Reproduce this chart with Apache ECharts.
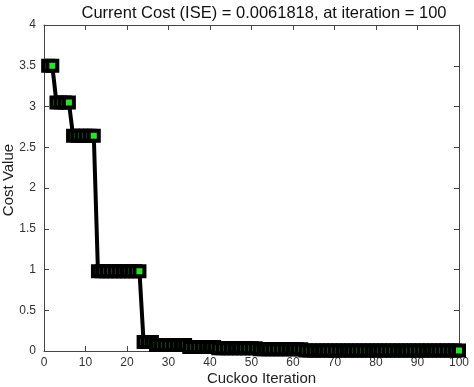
<!DOCTYPE html>
<html><head><meta charset="utf-8">
<script src="https://cdn.jsdelivr.net/npm/echarts@6/dist/echarts.min.js"></script>
<style>html,body{margin:0;padding:0;background:#fff}#c{width:474px;height:387px}</style>
</head><body><div id="c"></div>
<script>
const titleText = 'Current Cost (ISE) = 0.0061818, at iteration = 100';
const xLabel = 'Cuckoo Iteration';
const yLabel = 'Cost Value';
const costValues = [
  3.5, 3.5,
  3.05, 3.05, 3.05, 3.05,
  2.64, 2.64, 2.64, 2.64, 2.64, 2.64,
  0.98, 0.98, 0.98, 0.98, 0.98, 0.98, 0.98, 0.98, 0.98, 0.98, 0.98,
  0.11, 0.11, 0.11,
  0.075, 0.075, 0.075, 0.075, 0.075, 0.075, 0.075, 0.075,
  0.05, 0.05, 0.05, 0.05, 0.05, 0.05, 0.05,
  0.035, 0.035, 0.035, 0.035, 0.035, 0.035, 0.035, 0.035, 0.035, 0.035,
  0.02, 0.02, 0.02, 0.02, 0.02, 0.02, 0.02, 0.02, 0.02, 0.02, 0.02,
  0.0061818, 0.0061818, 0.0061818, 0.0061818, 0.0061818, 0.0061818, 0.0061818, 0.0061818,
  0.0061818, 0.0061818, 0.0061818, 0.0061818, 0.0061818, 0.0061818, 0.0061818, 0.0061818,
  0.0061818, 0.0061818, 0.0061818, 0.0061818, 0.0061818, 0.0061818, 0.0061818, 0.0061818,
  0.0061818, 0.0061818, 0.0061818, 0.0061818, 0.0061818, 0.0061818, 0.0061818, 0.0061818,
  0.0061818, 0.0061818, 0.0061818, 0.0061818, 0.0061818, 0.0061818
];
const xTicks = [0, 10, 20, 30, 40, 50, 60, 70, 80, 90, 100];
const yTicks = [0, 0.5, 1, 1.5, 2, 2.5, 3, 3.5, 4];

const seriesData = costValues.map((v, i) => [i + 1, v]);
const font = '"Liberation Sans", Arial, sans-serif';
const axisCol = '#444';
const baseX = {
  type: 'value', min: xTicks[0], max: xTicks[xTicks.length - 1], interval: 10,
  axisLine: { show: true, onZero: false, lineStyle: { color: axisCol, width: 1 } },
  axisTick: { show: true, inside: true, length: 5, lineStyle: { color: axisCol } },
  splitLine: { show: false }
};
const baseY = {
  type: 'value', min: yTicks[0], max: yTicks[yTicks.length - 1], interval: 0.5,
  axisLine: { show: true, onZero: false, lineStyle: { color: axisCol, width: 1 } },
  axisTick: { show: true, inside: true, length: 5, lineStyle: { color: axisCol } },
  splitLine: { show: false }
};
const chart = echarts.init(document.getElementById('c'), null, { renderer: 'canvas' });
chart.setOption({
  animation: false,
  backgroundColor: '#fff',
  title: {
    text: titleText, left: 259, top: 0, textAlign: 'center',
    textStyle: { fontFamily: font, fontSize: 16.5, fontWeight: 'normal', color: '#111' }
  },
  grid: { left: 44, right: 15, top: 25, bottom: 36, containLabel: false, outerBoundsMode: 'none' },
  xAxis: [
    Object.assign({}, baseX, {
      position: 'bottom', name: xLabel, nameLocation: 'middle', nameGap: 20, nameMoveOverlap: false,
      nameTextStyle: { fontFamily: font, fontSize: 15, color: '#222', padding: [0, 0, 0, 20] },
      axisLabel: { show: true, margin: 6, fontFamily: font, fontSize: 12, color: '#333' }
    }),
    Object.assign({}, baseX, { position: 'top', axisLabel: { show: false } })
  ],
  yAxis: [
    Object.assign({}, baseY, {
      position: 'left', name: yLabel, nameLocation: 'middle', nameGap: 28, nameRotate: 90, nameMoveOverlap: false,
      nameTextStyle: { fontFamily: font, fontSize: 15, color: '#222', padding: [0, 0, 0, 16] },
      axisLabel: { show: true, margin: 8, fontFamily: font, fontSize: 12, color: '#333' }
    }),
    Object.assign({}, baseY, { position: 'right', axisLabel: { show: false } })
  ],
  series: [{
    type: 'line', data: seriesData, clip: false,
    lineStyle: { color: '#000', width: 4 },
    symbol: 'rect', symbolSize: 10, showAllSymbol: true,
    itemStyle: { color: '#2ee02e', borderColor: '#000', borderWidth: 4 }
  }]
});
</script></body></html>
